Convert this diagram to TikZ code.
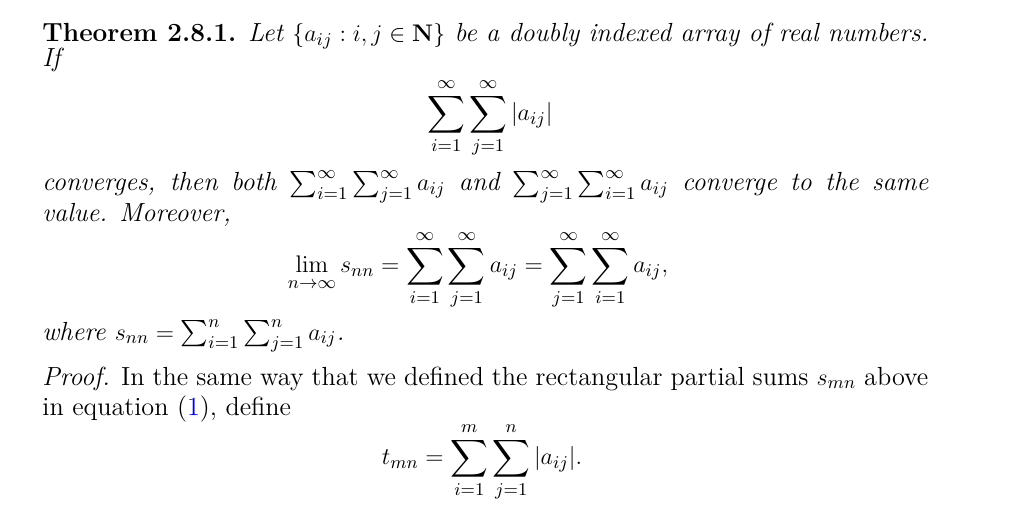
\documentclass[tikz,border=0pt]{standalone}
\usepackage{amsmath,amssymb,xcolor}
\begin{document}
\begin{tikzpicture}[x=0.5pt,y=-0.5pt,
 ln/.style={anchor=base west,inner sep=0pt,font=\fontsize{13.1}{15}\selectfont},
 dm/.style={anchor=center,inner sep=0pt,font=\fontsize{13.1}{15}\selectfont}]
\useasboundingbox (0,0) rectangle (1024,524);
\node[ln] (l1) at (42,42) {\makebox[443pt][s]{\textbf{Theorem 2.8.1.} \itshape Let $\{a_{ij}:i,j\in\mathbf{N}\}$ be a doubly indexed array of real numbers.}};
\node[ln] (l2) at (42,67) {\itshape If};
\node[dm] (d1) at (490,118) {$\displaystyle\sum_{i=1}^{\infty}\sum_{j=1}^{\infty}|a_{ij}|$};
\node[ln] (l3) at (42,191) {\makebox[443pt][s]{\itshape converges, then both $\sum_{i=1}^\infty\sum_{j=1}^\infty a_{ij}$ and $\sum_{j=1}^\infty\sum_{i=1}^\infty a_{ij}$ converge to the same}};
\node[ln] (l4) at (42,221) {\itshape value. Moreover,};
\node[dm] (d2) at (478,270) {$\displaystyle\lim_{n\to\infty}s_{nn}=\sum_{i=1}^{\infty}\sum_{j=1}^{\infty}a_{ij}=\sum_{j=1}^{\infty}\sum_{i=1}^{\infty}a_{ij},$};
\node[ln] (l5) at (42,340) {\itshape where $s_{nn}=\sum_{i=1}^n\sum_{j=1}^n a_{ij}$.};
\node[ln] (l6) at (42,385) {\makebox[443pt][s]{\textit{Proof.} In the same way that we defined the rectangular partial sums $s_{mn}$ above}};
\node[ln] (l7) at (42,415) {in equation (\textcolor{blue}{1}), define};
\node[dm] (d3) at (482,462) {$\displaystyle t_{mn}=\sum_{i=1}^{m}\sum_{j=1}^{n}|a_{ij}|.$};
\end{tikzpicture}
\end{document}
